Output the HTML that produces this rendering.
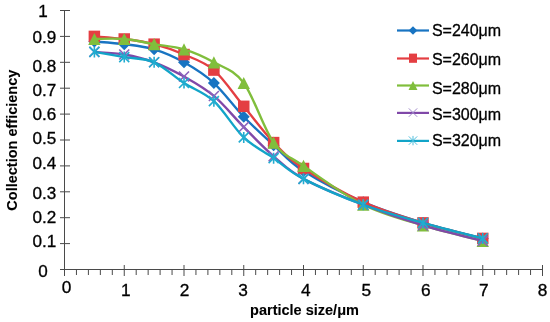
<!DOCTYPE html><html><head><meta charset="utf-8"><style>html,body{margin:0;padding:0;background:#fff;}svg{display:block;}text{font-family:"Liberation Sans",Arial,sans-serif;fill:#000;stroke:#000;stroke-width:0.3px;}</style></head><body>
<svg width="550" height="322" viewBox="0 0 550 322">
<rect width="550" height="322" fill="#fff"/>
<path d="M64.5,10 V270 M60,269.5 H543" stroke="#4a4a4a" stroke-width="1" fill="none"/>
<path d="M60,10.50 H70 M60,36.40 H70 M60,62.30 H70 M60,88.20 H70 M60,114.10 H70 M60,140.00 H70 M60,165.90 H70 M60,191.80 H70 M60,217.70 H70 M60,243.60 H70 M60,269.50 H70 M64.50,265 V276 M124.25,265 V276 M184.00,265 V276 M243.75,265 V276 M303.50,265 V276 M363.25,265 V276 M423.00,265 V276 M482.75,265 V276 M542.50,265 V276 M76.45,269.5 V275 M88.40,269.5 V275 M100.35,269.5 V275 M112.30,269.5 V275 M136.20,269.5 V275 M148.15,269.5 V275 M160.10,269.5 V275 M172.05,269.5 V275 M195.95,269.5 V275 M207.90,269.5 V275 M219.85,269.5 V275 M231.80,269.5 V275 M255.70,269.5 V275 M267.65,269.5 V275 M279.60,269.5 V275 M291.55,269.5 V275 M315.45,269.5 V275 M327.40,269.5 V275 M339.35,269.5 V275 M351.30,269.5 V275 M375.20,269.5 V275 M387.15,269.5 V275 M399.10,269.5 V275 M411.05,269.5 V275 M434.95,269.5 V275 M446.90,269.5 V275 M458.85,269.5 V275 M470.80,269.5 V275 M494.70,269.5 V275 M506.65,269.5 V275 M518.60,269.5 V275 M530.55,269.5 V275" stroke="#4a4a4a" stroke-width="1" fill="none"/>
<text transform="translate(43.0,277.00) scale(1.07,1)" font-size="16" text-anchor="middle">0</text>
<text transform="translate(44.3,247.20) scale(1.07,1)" font-size="16" text-anchor="middle">0.1</text>
<text transform="translate(44.3,223.15) scale(1.07,1)" font-size="16" text-anchor="middle">0.2</text>
<text transform="translate(44.3,198.70) scale(1.07,1)" font-size="16" text-anchor="middle">0.3</text>
<text transform="translate(44.3,169.20) scale(1.07,1)" font-size="16" text-anchor="middle">0.4</text>
<text transform="translate(44.3,144.40) scale(1.07,1)" font-size="16" text-anchor="middle">0.5</text>
<text transform="translate(44.3,120.15) scale(1.07,1)" font-size="16" text-anchor="middle">0.6</text>
<text transform="translate(44.3,96.10) scale(1.07,1)" font-size="16" text-anchor="middle">0.7</text>
<text transform="translate(44.3,71.90) scale(1.07,1)" font-size="16" text-anchor="middle">0.8</text>
<text transform="translate(44.3,43.20) scale(1.07,1)" font-size="16" text-anchor="middle">0.9</text>
<text transform="translate(43.0,17.15) scale(1.07,1)" font-size="16" text-anchor="middle">1</text>
<text transform="translate(66.60,293.2) scale(1.08,1)" font-size="16" text-anchor="middle">0</text>
<text transform="translate(125.75,295.5) scale(1.08,1)" font-size="16" text-anchor="middle">1</text>
<text transform="translate(184.50,295.5) scale(1.08,1)" font-size="16" text-anchor="middle">2</text>
<text transform="translate(243.10,295.5) scale(1.08,1)" font-size="16" text-anchor="middle">3</text>
<text transform="translate(305.85,295.5) scale(1.08,1)" font-size="16" text-anchor="middle">4</text>
<text transform="translate(366.35,295.5) scale(1.08,1)" font-size="16" text-anchor="middle">5</text>
<text transform="translate(425.70,295.5) scale(1.08,1)" font-size="16" text-anchor="middle">6</text>
<text transform="translate(483.70,295.5) scale(1.08,1)" font-size="16" text-anchor="middle">7</text>
<text transform="translate(542.65,295.5) scale(1.08,1)" font-size="16" text-anchor="middle">8</text>
<text x="304.5" y="314.8" font-size="14.5" font-weight="bold" style="stroke-width:0.1px" text-anchor="middle">particle size/μm</text>
<text transform="translate(16.8,140.2) rotate(-90)" x="0" y="0" font-size="14.5" font-weight="bold" style="stroke-width:0.1px" text-anchor="middle">Collection efficiency</text>
<path d="M94.38,41.58 C99.35,42.01 114.29,42.87 124.25,44.17 C134.21,45.46 144.17,46.33 154.12,49.35 C164.08,52.37 174.04,56.69 184.00,62.30 C193.96,67.91 203.92,73.96 213.88,83.02 C223.83,92.09 233.79,106.33 243.75,116.69 C253.71,127.05 263.67,136.12 273.62,145.18 C283.58,154.25 288.56,161.58 303.50,171.08 C318.44,180.58 343.33,193.53 363.25,202.16 C383.17,210.79 403.08,216.84 423.00,222.88 C442.92,228.92 472.79,235.83 482.75,238.42" stroke="#1874C2" stroke-width="2.35" fill="none" stroke-linejoin="round"/>
<path d="M94.38,35.58 L100.38,41.58 L94.38,47.58 L88.38,41.58Z" fill="#1874C2"/>
<path d="M124.25,38.17 L130.25,44.17 L124.25,50.17 L118.25,44.17Z" fill="#1874C2"/>
<path d="M154.12,43.35 L160.12,49.35 L154.12,55.35 L148.12,49.35Z" fill="#1874C2"/>
<path d="M184.00,56.30 L190.00,62.30 L184.00,68.30 L178.00,62.30Z" fill="#1874C2"/>
<path d="M213.88,77.02 L219.88,83.02 L213.88,89.02 L207.88,83.02Z" fill="#1874C2"/>
<path d="M243.75,110.69 L249.75,116.69 L243.75,122.69 L237.75,116.69Z" fill="#1874C2"/>
<path d="M273.62,139.18 L279.62,145.18 L273.62,151.18 L267.62,145.18Z" fill="#1874C2"/>
<path d="M303.50,165.08 L309.50,171.08 L303.50,177.08 L297.50,171.08Z" fill="#1874C2"/>
<path d="M363.25,196.16 L369.25,202.16 L363.25,208.16 L357.25,202.16Z" fill="#1874C2"/>
<path d="M423.00,216.88 L429.00,222.88 L423.00,228.88 L417.00,222.88Z" fill="#1874C2"/>
<path d="M482.75,232.42 L488.75,238.42 L482.75,244.42 L476.75,238.42Z" fill="#1874C2"/>
<path d="M94.38,36.40 C99.35,36.83 114.29,37.70 124.25,38.99 C134.21,40.29 144.17,41.58 154.12,44.17 C164.08,46.76 174.04,50.21 184.00,54.53 C193.96,58.85 203.92,61.44 213.88,70.07 C223.83,78.70 233.79,94.24 243.75,106.33 C253.71,118.42 263.67,132.23 273.62,142.59 C283.58,152.95 288.56,158.56 303.50,168.49 C318.44,178.42 343.33,193.09 363.25,202.16 C383.17,211.22 403.08,216.84 423.00,222.88 C442.92,228.92 472.79,235.83 482.75,238.42" stroke="#E43E42" stroke-width="2.35" fill="none" stroke-linejoin="round"/>
<rect x="88.62" y="30.65" width="11.50" height="11.50" fill="#E43E42"/>
<rect x="118.50" y="33.24" width="11.50" height="11.50" fill="#E43E42"/>
<rect x="148.38" y="38.42" width="11.50" height="11.50" fill="#E43E42"/>
<rect x="178.25" y="48.78" width="11.50" height="11.50" fill="#E43E42"/>
<rect x="208.12" y="64.32" width="11.50" height="11.50" fill="#E43E42"/>
<rect x="238.00" y="100.58" width="11.50" height="11.50" fill="#E43E42"/>
<rect x="267.88" y="136.84" width="11.50" height="11.50" fill="#E43E42"/>
<rect x="297.75" y="162.74" width="11.50" height="11.50" fill="#E43E42"/>
<rect x="357.50" y="196.41" width="11.50" height="11.50" fill="#E43E42"/>
<rect x="417.25" y="217.13" width="11.50" height="11.50" fill="#E43E42"/>
<rect x="477.00" y="232.67" width="11.50" height="11.50" fill="#E43E42"/>
<path d="M94.38,38.99 C99.35,38.99 114.29,38.13 124.25,38.99 C134.21,39.85 144.17,42.44 154.12,44.17 C164.08,45.90 174.04,46.33 184.00,49.35 C193.96,52.37 203.92,56.69 213.88,62.30 C223.83,67.91 233.79,69.64 243.75,83.02 C253.71,96.40 263.67,128.78 273.62,142.59 C283.58,156.40 288.56,155.54 303.50,165.90 C318.44,176.26 343.33,194.82 363.25,204.75 C383.17,214.68 403.08,219.43 423.00,225.47 C442.92,231.51 472.79,238.42 482.75,241.01" stroke="#80BE3C" stroke-width="2.35" fill="none" stroke-linejoin="round"/>
<path d="M94.38,32.89 L100.58,45.09 L88.17,45.09Z" fill="#80BE3C"/>
<path d="M124.25,32.89 L130.45,45.09 L118.05,45.09Z" fill="#80BE3C"/>
<path d="M154.12,38.07 L160.32,50.27 L147.93,50.27Z" fill="#80BE3C"/>
<path d="M184.00,43.25 L190.20,55.45 L177.80,55.45Z" fill="#80BE3C"/>
<path d="M213.88,56.20 L220.07,68.40 L207.68,68.40Z" fill="#80BE3C"/>
<path d="M243.75,76.92 L249.95,89.12 L237.55,89.12Z" fill="#80BE3C"/>
<path d="M273.62,136.49 L279.82,148.69 L267.43,148.69Z" fill="#80BE3C"/>
<path d="M303.50,159.80 L309.70,172.00 L297.30,172.00Z" fill="#80BE3C"/>
<path d="M363.25,198.65 L369.45,210.85 L357.05,210.85Z" fill="#80BE3C"/>
<path d="M423.00,219.37 L429.20,231.57 L416.80,231.57Z" fill="#80BE3C"/>
<path d="M482.75,234.91 L488.95,247.11 L476.55,247.11Z" fill="#80BE3C"/>
<path d="M94.38,51.94 C99.35,52.37 114.29,52.80 124.25,54.53 C134.21,56.26 144.17,58.63 154.12,62.30 C164.08,65.97 174.04,70.93 184.00,76.54 C193.96,82.16 203.92,87.55 213.88,95.97 C223.83,104.39 233.79,116.99 243.75,127.05 C253.71,137.11 263.67,147.68 273.62,156.32 C283.58,164.95 288.56,170.78 303.50,178.85 C318.44,186.92 343.33,196.98 363.25,204.75 C383.17,212.52 403.08,219.43 423.00,225.47 C442.92,231.51 472.79,238.42 482.75,241.01" stroke="#8048A8" stroke-width="2.35" fill="none" stroke-linejoin="round"/>
<path d="M89.38,46.94 L99.38,56.94 M99.38,46.94 L89.38,56.94" stroke="#8A62BC" stroke-width="1.6" fill="none"/>
<path d="M119.25,49.53 L129.25,59.53 M129.25,49.53 L119.25,59.53" stroke="#8A62BC" stroke-width="1.6" fill="none"/>
<path d="M149.12,57.30 L159.12,67.30 M159.12,57.30 L149.12,67.30" stroke="#8A62BC" stroke-width="1.6" fill="none"/>
<path d="M179.00,71.54 L189.00,81.54 M189.00,71.54 L179.00,81.54" stroke="#8A62BC" stroke-width="1.6" fill="none"/>
<path d="M208.88,90.97 L218.88,100.97 M218.88,90.97 L208.88,100.97" stroke="#8A62BC" stroke-width="1.6" fill="none"/>
<path d="M238.75,122.05 L248.75,132.05 M248.75,122.05 L238.75,132.05" stroke="#8A62BC" stroke-width="1.6" fill="none"/>
<path d="M268.62,151.32 L278.62,161.32 M278.62,151.32 L268.62,161.32" stroke="#8A62BC" stroke-width="1.6" fill="none"/>
<path d="M298.50,173.85 L308.50,183.85 M308.50,173.85 L298.50,183.85" stroke="#8A62BC" stroke-width="1.6" fill="none"/>
<path d="M358.25,199.75 L368.25,209.75 M368.25,199.75 L358.25,209.75" stroke="#8A62BC" stroke-width="1.6" fill="none"/>
<path d="M418.00,220.47 L428.00,230.47 M428.00,220.47 L418.00,230.47" stroke="#8A62BC" stroke-width="1.6" fill="none"/>
<path d="M477.75,236.01 L487.75,246.01 M487.75,236.01 L477.75,246.01" stroke="#8A62BC" stroke-width="1.6" fill="none"/>
<path d="M94.38,51.94 C99.35,52.80 114.29,55.39 124.25,57.12 C134.21,58.85 144.17,57.98 154.12,62.30 C164.08,66.62 174.04,76.55 184.00,83.02 C193.96,89.50 203.92,92.09 213.88,101.15 C223.83,110.22 233.79,127.91 243.75,137.41 C253.71,146.91 263.67,151.22 273.62,158.13 C283.58,165.04 288.56,171.08 303.50,178.85 C318.44,186.62 343.33,197.41 363.25,204.75 C383.17,212.09 403.08,217.27 423.00,222.88 C442.92,228.49 472.79,235.83 482.75,238.42" stroke="#12A4C8" stroke-width="2.35" fill="none" stroke-linejoin="round"/>
<path d="M89.38,46.94 L99.38,56.94 M99.38,46.94 L89.38,56.94 M94.38,46.44 L94.38,57.44" stroke="#22ACD0" stroke-width="1.6" fill="none"/>
<path d="M119.25,52.12 L129.25,62.12 M129.25,52.12 L119.25,62.12 M124.25,51.62 L124.25,62.62" stroke="#22ACD0" stroke-width="1.6" fill="none"/>
<path d="M149.12,57.30 L159.12,67.30 M159.12,57.30 L149.12,67.30 M154.12,56.80 L154.12,67.80" stroke="#22ACD0" stroke-width="1.6" fill="none"/>
<path d="M179.00,78.02 L189.00,88.02 M189.00,78.02 L179.00,88.02 M184.00,77.52 L184.00,88.52" stroke="#22ACD0" stroke-width="1.6" fill="none"/>
<path d="M208.88,96.15 L218.88,106.15 M218.88,96.15 L208.88,106.15 M213.88,95.65 L213.88,106.65" stroke="#22ACD0" stroke-width="1.6" fill="none"/>
<path d="M238.75,132.41 L248.75,142.41 M248.75,132.41 L238.75,142.41 M243.75,131.91 L243.75,142.91" stroke="#22ACD0" stroke-width="1.6" fill="none"/>
<path d="M268.62,153.13 L278.62,163.13 M278.62,153.13 L268.62,163.13 M273.62,152.63 L273.62,163.63" stroke="#22ACD0" stroke-width="1.6" fill="none"/>
<path d="M298.50,173.85 L308.50,183.85 M308.50,173.85 L298.50,183.85 M303.50,173.35 L303.50,184.35" stroke="#22ACD0" stroke-width="1.6" fill="none"/>
<path d="M358.25,199.75 L368.25,209.75 M368.25,199.75 L358.25,209.75 M363.25,199.25 L363.25,210.25" stroke="#22ACD0" stroke-width="1.6" fill="none"/>
<path d="M418.00,217.88 L428.00,227.88 M428.00,217.88 L418.00,227.88 M423.00,217.38 L423.00,228.38" stroke="#22ACD0" stroke-width="1.6" fill="none"/>
<path d="M477.75,233.42 L487.75,243.42 M487.75,233.42 L477.75,243.42 M482.75,232.92 L482.75,243.92" stroke="#22ACD0" stroke-width="1.6" fill="none"/>
<path d="M397,30.50 H429" stroke="#1874C2" stroke-width="2.2" fill="none"/>
<path d="M413.00,26.18 L417.32,30.50 L413.00,34.82 L408.68,30.50Z" fill="#1874C2"/>
<text x="431.9" y="35.85" font-size="16">S=240μm</text>
<path d="M397,58.50 H429" stroke="#E43E42" stroke-width="2.2" fill="none"/>
<rect x="409" y="53.60" width="8" height="9.2" fill="#E43E42"/>
<text x="431.9" y="65.45" font-size="16">S=260μm</text>
<path d="M397,85.50 H429" stroke="#80BE3C" stroke-width="2.2" fill="none"/>
<path d="M413.00,81.11 L417.46,89.89 L408.54,89.89Z" fill="#80BE3C"/>
<text x="431.9" y="94.00" font-size="16">S=280μm</text>
<path d="M397,112.90 H429" stroke="#8048A8" stroke-width="2.2" fill="none"/>
<path d="M408.80,108.40 L417.20,116.80 M417.20,108.40 L408.80,116.80" stroke="#A28BCB" stroke-width="1.0" fill="none"/>
<text x="431.9" y="119.70" font-size="16">S=300μm</text>
<path d="M397,140.90 H429" stroke="#12A4C8" stroke-width="2.2" fill="none"/>
<path d="M408.80,136.40 L417.20,144.80 M417.20,136.40 L408.80,144.80 M413.00,135.90 L413.00,145.30" stroke="#52BFDD" stroke-width="1.0" fill="none"/>
<text x="431.9" y="145.90" font-size="16">S=320μm</text>
</svg></body></html>
